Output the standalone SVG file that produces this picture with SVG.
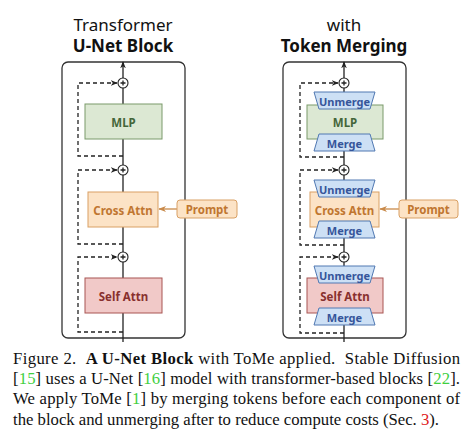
<svg xmlns="http://www.w3.org/2000/svg" width="474" height="441" viewBox="0 0 474 441">
<defs>
<marker id="ah" viewBox="0 0 10 10" refX="9" refY="5" markerWidth="7" markerHeight="7" markerUnits="userSpaceOnUse" orient="auto"><path d="M0,1 L10,5 L0,9 L3,5 Z" fill="#222"/></marker>
<marker id="aho" viewBox="0 0 10 10" refX="9" refY="5" markerWidth="8" markerHeight="8" markerUnits="userSpaceOnUse" orient="auto"><path d="M0,1 L10,5 L0,9 L3,5 Z" fill="#c98a4a"/></marker>
</defs>
<style>
.title{font-family:"Noto Sans","Open Sans",sans-serif;font-size:17px;fill:#111;text-anchor:middle}
.tb{font-weight:bold}
.outer{fill:#fff;stroke:#333;stroke-width:1.3}
.main{stroke:#222;stroke-width:1.3;fill:none}
.dash{stroke:#222;stroke-width:1.3;fill:none;stroke-dasharray:4 3}
.plus{fill:#fff;stroke:#222;stroke-width:1.1}
.lbl{font-family:"Noto Sans","Open Sans",sans-serif;font-size:11.5px;font-weight:bold;text-anchor:middle;dominant-baseline:central}
.sm{font-size:11px}
.mlp{fill:#dce8d3;stroke:#7a9a6a;stroke-width:1}
.mlpt{fill:#44663a}
.ca{fill:#fce3c6;stroke:#d9a064;stroke-width:1}
.cat{fill:#c07630}
.sa{fill:#f1c9c8;stroke:#a85552;stroke-width:1}
.sat{fill:#88302e}
.tm{fill:#cde0f5;stroke:#5078b2;stroke-width:1}
.tmt{fill:#35559a}
.cap{font-family:"Liberation Serif","Times New Roman",serif;font-size:16.7px;fill:#111}
.g{fill:#3fcf3f}
.r{fill:#e02020}
</style>

<g id="left-title">
<text class="title" x="123" y="31">Transformer</text>
<text class="title tb" x="123" y="52">U-Net Block</text>
</g>
<g id="right-title">
<text class="title" x="344" y="31">with</text>
<text class="title tb" x="344" y="52">Token Merging</text>
</g>

<g id="left-block"><rect class="outer" x="62" y="62" width="123" height="276" rx="6"/></g>
<g id="right-block"><rect class="outer" x="283" y="62" width="123" height="276" rx="6"/></g>

<g id="connectors">
<line class="main" x1="123" y1="342" x2="123" y2="62" marker-end="url(#ah)"/>
<path class="dash" d="M123,156 H78 V83 H117" marker-end="url(#ah)"/>
<path class="dash" d="M123,244 H78 V170 H117" marker-end="url(#ah)"/>
<path class="dash" d="M123,332 H78 V257 H117" marker-end="url(#ah)"/>
<line class="main" x1="344" y1="342" x2="344" y2="62" marker-end="url(#ah)"/>
<path class="dash" d="M344,157 H300 V83 H338" marker-end="url(#ah)"/>
<path class="dash" d="M344,245 H300 V170 H338" marker-end="url(#ah)"/>
<path class="dash" d="M344,333 H300 V257 H338" marker-end="url(#ah)"/>
<line x1="177" y1="209" x2="159" y2="209" stroke="#c98a4a" stroke-width="1.3" marker-end="url(#aho)"/>
<line x1="399" y1="209" x2="380" y2="209" stroke="#c98a4a" stroke-width="1.3" marker-end="url(#aho)"/>
</g>

<g id="left-adds">
<circle class="plus" cx="123" cy="83" r="5"/><path class="main" d="M120.5,83 H125.5 M123,80.5 V85.5"/>
<circle class="plus" cx="123" cy="170" r="5"/><path class="main" d="M120.5,170 H125.5 M123,167.5 V172.5"/>
<circle class="plus" cx="123" cy="257" r="5"/><path class="main" d="M120.5,257 H125.5 M123,254.5 V259.5"/>
</g>
<g id="right-adds">
<circle class="plus" cx="344" cy="83" r="5"/><path class="main" d="M341.5,83 H346.5 M344,80.5 V85.5"/>
<circle class="plus" cx="344" cy="170" r="5"/><path class="main" d="M341.5,170 H346.5 M344,167.5 V172.5"/>
<circle class="plus" cx="344" cy="257" r="5"/><path class="main" d="M341.5,257 H346.5 M344,254.5 V259.5"/>
</g>

<g id="left-mlp"><rect class="mlp" x="85" y="104" width="77" height="35"/><text class="lbl mlpt" x="123.5" y="122">MLP</text></g>
<g id="left-cross"><rect class="ca" x="88" y="192" width="70" height="35"/><text class="lbl cat" x="123" y="210">Cross Attn</text></g>
<g id="left-self"><rect class="sa" x="85" y="278" width="77" height="35"/><text class="lbl sat" x="123.5" y="296">Self Attn</text></g>
<g id="left-prompt"><rect class="ca" x="177" y="200" width="60" height="18" rx="3"/><text class="lbl cat" x="207" y="209.5">Prompt</text></g>

<g id="right-mlp"><rect class="mlp" x="307" y="105" width="76" height="34"/><text class="lbl mlpt" x="345" y="122">MLP</text></g>
<g id="right-mlp-unmerge"><polygon class="tm" points="314,92 375,92 370,109 319,109"/><text class="lbl sm tmt" x="344.5" y="101">Unmerge</text></g>
<g id="right-mlp-merge"><polygon class="tm" points="319,134 370,134 375,151 314,151"/><text class="lbl sm tmt" x="344.5" y="143">Merge</text></g>

<g id="right-cross"><rect class="ca" x="310" y="192" width="69" height="35"/><text class="lbl cat" x="344.5" y="210">Cross Attn</text></g>
<g id="right-cross-unmerge"><polygon class="tm" points="314,180 375,180 370,197 319,197"/><text class="lbl sm tmt" x="344.5" y="189">Unmerge</text></g>
<g id="right-cross-merge"><polygon class="tm" points="319,221 370,221 375,238 314,238"/><text class="lbl sm tmt" x="344.5" y="230">Merge</text></g>

<g id="right-self"><rect class="sa" x="307" y="278" width="76" height="35"/><text class="lbl sat" x="345" y="296">Self Attn</text></g>
<g id="right-self-unmerge"><polygon class="tm" points="314,266 375,266 370,283 319,283"/><text class="lbl sm tmt" x="344.5" y="275">Unmerge</text></g>
<g id="right-self-merge"><polygon class="tm" points="319,308 370,308 375,325 314,325"/><text class="lbl sm tmt" x="344.5" y="317">Merge</text></g>

<g id="right-prompt"><rect class="ca" x="399" y="200" width="59" height="18" rx="3"/><text class="lbl cat" x="428.5" y="209.5">Prompt</text></g>

<g id="caption">
<text class="cap" x="13" y="364" textLength="447" lengthAdjust="spacing" xml:space="preserve">Figure 2.  <tspan font-weight="bold">A U-Net Block</tspan> with ToMe applied.  Stable Diffusion</text>
<text class="cap" x="13" y="384" textLength="447" lengthAdjust="spacing">[<tspan class="g">15</tspan>] uses a U-Net [<tspan class="g">16</tspan>] model with transformer-based blocks [<tspan class="g">22</tspan>].</text>
<text class="cap" x="13" y="404" textLength="447" lengthAdjust="spacing">We apply ToMe [<tspan class="g">1</tspan>] by merging tokens before each component of</text>
<text class="cap" x="13" y="425">the block and unmerging after to reduce compute costs (Sec. <tspan class="r">3</tspan>).</text>
</g>
</svg>
